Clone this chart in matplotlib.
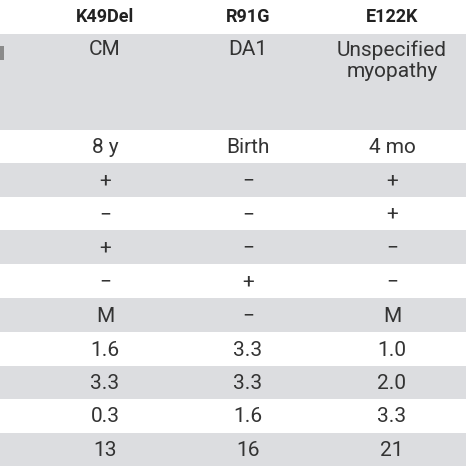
import matplotlib.pyplot as plt
from matplotlib.patches import Rectangle

plt.switch_backend("Agg")

GREY = "#dcdde0"

# column headers and cell values (rows top to bottom)
columns = ["K49Del", "R91G", "E122K"]
col_k49del = ["CM", "8 y", "+", "\u2212", "+", "\u2212", "M", "1.6", "3.3", "0.3", "13"]
col_r91g = ["DA1", "Birth", "\u2212", "\u2212", "\u2212", "+", "\u2212", "3.3", "3.3", "1.6", "16"]
col_e122k = ["Unspecified\nmyopathy", "4 mo", "+", "+", "\u2212", "\u2212", "M", "1.0", "2.0", "3.3", "21"]

# row edges in pixels (image is a crop of a larger table)
row_edges = [34, 130, 163, 197, 230, 264, 298, 332, 366, 399, 433, 466]
col_centers = [105, 248, 392]

fig = plt.figure(figsize=(4.66, 4.66), dpi=100)
ax = fig.add_axes([0, 0, 1, 1])
ax.set_xlim(0, 466)
ax.set_ylim(466, 0)
ax.axis("off")

for i in range(len(row_edges) - 1):
    top, bottom = row_edges[i], row_edges[i + 1]
    if i % 2 == 0:
        ax.add_patch(Rectangle((0, top), 466, bottom - top, color=GREY, lw=0))

# cut-off label fragment at the left edge
ax.add_patch(Rectangle((0, 46), 4, 14, color="#8a8a8a", lw=0))

for x, name in zip(col_centers, columns):
    ax.text(x, 17, name, ha="center", va="center", fontsize=13,
            fontweight="bold", family="Roboto", color="#222222")

for x, values in zip(col_centers, [col_k49del, col_r91g, col_e122k]):
    for i, value in enumerate(values):
        top, bottom = row_edges[i], row_edges[i + 1]
        if i == 0:
            ax.text(x, 40, value, ha="center", va="top", fontsize=15,
                    family="Roboto", color="#333333", linespacing=1.15)
        else:
            ax.text(x, (top + bottom) / 2 + 1, value, ha="center", va="center",
                    fontsize=15, family="Roboto", color="#333333")

fig.savefig("out.png", dpi=100)
